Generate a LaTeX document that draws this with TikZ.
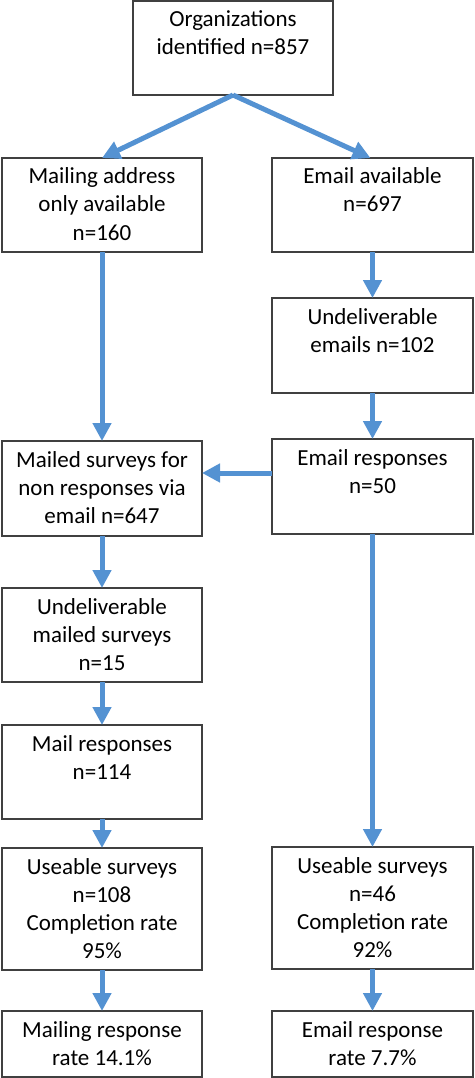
\documentclass[tikz,border=0pt]{standalone}
\usepackage{fontspec}
\setmainfont{Carlito}
\usetikzlibrary{arrows.meta}
\definecolor{arrowblue}{RGB}{84,146,210}
\definecolor{boxline}{RGB}{64,64,64}
\newcommand{\bxt}[3]{\parbox[t][#1][t]{#2}{\centering\rule{0pt}{26pt}#3}}
\begin{document}
\begin{tikzpicture}[x=1pt,y=-1pt,
  box/.style={draw=boxline,line width=1.2pt,inner sep=0pt,outer sep=0pt,anchor=north west,
    font=\fontsize{23}{28}\selectfont},
  arr/.style={draw=arrowblue,line width=5pt,-{Triangle[width=18pt,length=18pt]}}]
\useasboundingbox (0,0) rectangle (474,1078);
\node[box] (top) at (133,1) {\bxt{94pt}{200pt}{Organizations\\identified n=857}};
\node[box] (L1) at (2,158) {\bxt{94pt}{200pt}{Mailing address\\only available\\n=160}};
\node[box] (R1) at (272,158) {\bxt{94pt}{201pt}{Email available\\n=697}};
\node[box] (R2) at (272,298) {\bxt{95pt}{201pt}{Undeliverable\\emails n=102}};
\node[box] (R3) at (272,439) {\bxt{95pt}{201pt}{Email responses\\n=50}};
\node[box] (L2) at (2,441) {\bxt{95pt}{200pt}{Mailed surveys for\\non responses via\\email n=647}};
\node[box] (L3) at (2,588) {\bxt{94pt}{200pt}{Undeliverable\\mailed surveys\\n=15}};
\node[box] (L4) at (2,725) {\bxt{94pt}{200pt}{Mail responses\\n=114}};
\node[box] (L5) at (2,848) {\bxt{122pt}{200pt}{Useable surveys\\n=108\\Completion rate\\95\%}};
\node[box] (R4) at (272,847) {\bxt{122pt}{201pt}{Useable surveys\\n=46\\Completion rate\\92\%}};
\node[box] (L6) at (2,1011) {\bxt{66pt}{200pt}{Mailing response\\rate 14.1\%}};
\node[box] (R5) at (272,1011) {\bxt{66pt}{201pt}{Email response\\rate 7.7\%}};
\draw[arr] (top.south) -- (L1.north);
\draw[arr] (top.south) -- ([xshift=-2pt]R1.north);
\draw[arr] (L1.south) -- (L2.north);
\draw[arr] (R1.south) -- (R2.north);
\draw[arr] (R2.south) -- (R3.north);
\draw[arr] ([yshift=13.5pt]R3.west) -- ([yshift=13.5pt]R3.west -| L2.east);
\draw[arr] (L2.south) -- (L3.north);
\draw[arr] (L3.south) -- (L4.north);
\draw[arr] (L4.south) -- (L5.north);
\draw[arr] (L5.south) -- (L6.north);
\draw[arr] (R3.south) -- (R4.north);
\draw[arr] (R4.south) -- (R5.north);
\end{tikzpicture}
\end{document}
